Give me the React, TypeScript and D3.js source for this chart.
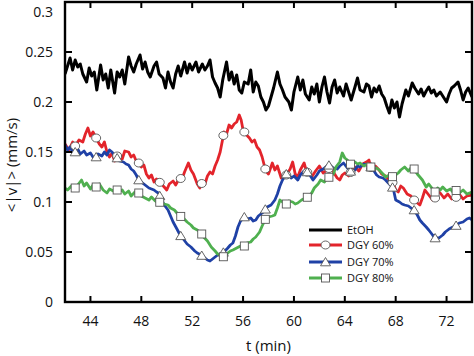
import React from "react";
import * as d3 from "d3";

// ---------- data ----------
const etoh: [number, number][] = [
  [42.0,0.228],[42.2,0.236],[42.4,0.244],[42.6,0.232],[42.8,0.242],[43.0,0.235],[43.2,0.238],[43.4,0.228],[43.7,0.220],[43.9,0.234],
  [44.1,0.226],[44.3,0.230],[44.5,0.212],[44.8,0.237],[45.0,0.222],[45.2,0.228],[45.4,0.214],[45.6,0.232],[45.9,0.209],[46.1,0.230],
  [46.3,0.225],[46.5,0.232],[46.7,0.218],[47.0,0.245],[47.2,0.236],[47.4,0.230],[47.6,0.238],[47.9,0.247],[48.1,0.233],[48.3,0.240],
  [48.5,0.230],[48.7,0.225],[49.0,0.236],[49.2,0.240],[49.4,0.228],[49.7,0.224],[49.9,0.214],[50.1,0.230],[50.3,0.220],[50.5,0.214],
  [50.7,0.228],[50.9,0.236],[51.1,0.226],[51.4,0.240],[51.6,0.229],[51.8,0.238],[52.0,0.232],[52.3,0.240],[52.5,0.230],[52.8,0.238],
  [53.0,0.232],[53.2,0.236],[53.4,0.242],[53.6,0.225],[53.8,0.219],[54.0,0.214],[54.2,0.205],[54.4,0.222],[54.7,0.240],[54.9,0.222],
  [55.1,0.230],[55.3,0.218],[55.5,0.227],[55.7,0.212],[55.9,0.209],[56.1,0.220],[56.4,0.218],[56.6,0.232],[56.8,0.210],[57.0,0.220],
  [57.2,0.216],[57.4,0.205],[57.6,0.200],[57.8,0.192],[58.0,0.196],[58.2,0.205],[58.4,0.214],[58.7,0.230],[58.9,0.218],[59.1,0.212],
  [59.3,0.205],[59.6,0.200],[59.8,0.192],[60.0,0.210],[60.3,0.225],[60.5,0.212],[60.7,0.222],[60.9,0.208],[61.2,0.202],[61.4,0.215],
  [61.6,0.208],[61.8,0.218],[62.0,0.200],[62.2,0.215],[62.4,0.225],[62.6,0.210],[62.8,0.199],[63.0,0.215],[63.2,0.222],[63.4,0.209],
  [63.6,0.215],[63.9,0.206],[64.1,0.218],[64.3,0.210],[64.5,0.202],[64.8,0.215],[65.0,0.224],[65.2,0.212],[65.5,0.210],[65.7,0.218],
  [65.9,0.216],[66.1,0.205],[66.3,0.214],[66.5,0.210],[66.7,0.216],[66.9,0.208],[67.1,0.204],[67.3,0.196],[67.5,0.189],[67.7,0.202],
  [67.9,0.194],[68.1,0.200],[68.3,0.185],[68.5,0.198],[68.8,0.212],[69.0,0.206],[69.3,0.219],[69.5,0.214],[69.8,0.208],[70.0,0.213],
  [70.2,0.206],[70.4,0.211],[70.6,0.215],[70.8,0.209],[71.0,0.212],[71.2,0.206],[71.5,0.210],[71.8,0.204],[72.0,0.200],[72.2,0.208],
  [72.4,0.214],[72.6,0.216],[72.9,0.220],[73.1,0.212],[73.3,0.202],[73.5,0.210],[73.7,0.214],[74.0,0.205],
];

const dgy60: [number, number][] = [
  [42.0,0.158],[42.3,0.152],[42.6,0.160],[42.8,0.156],[43.1,0.162],[43.4,0.160],[43.6,0.168],[43.8,0.174],[44.0,0.166],[44.2,0.170],
  [44.45,0.164],[44.7,0.158],[44.9,0.155],[45.1,0.160],[45.3,0.150],[45.5,0.145],[45.7,0.149],[45.9,0.141],[46.1,0.146],[46.3,0.148],
  [46.5,0.143],[46.7,0.151],[47.0,0.150],[47.2,0.145],[47.4,0.147],[47.6,0.141],[47.8,0.139],[48.0,0.135],[48.2,0.137],[48.4,0.128],
  [48.6,0.124],[48.8,0.127],[49.0,0.120],[49.2,0.123],[49.5,0.119],[49.8,0.115],[50.0,0.112],[50.2,0.118],[50.5,0.121],[50.7,0.117],
  [51.0,0.124],[51.2,0.123],[51.4,0.130],[51.7,0.139],[51.9,0.132],[52.1,0.128],[52.4,0.118],[52.6,0.114],[52.8,0.120],[53.0,0.118],
  [53.2,0.126],[53.4,0.130],[53.6,0.128],[53.8,0.136],[54.0,0.142],[54.2,0.150],[54.4,0.163],[54.5,0.170],[54.7,0.168],[54.9,0.177],
  [55.1,0.174],[55.3,0.178],[55.5,0.180],[55.7,0.187],[55.85,0.182],[56.0,0.172],[56.2,0.168],[56.5,0.164],[56.7,0.160],[56.9,0.162],
  [57.1,0.155],[57.3,0.152],[57.5,0.145],[57.7,0.135],[57.8,0.131],[58.0,0.128],[58.3,0.139],[58.5,0.132],[58.7,0.136],[59.0,0.124],
  [59.2,0.128],[59.4,0.127],[59.7,0.133],[59.9,0.140],[60.1,0.128],[60.3,0.125],[60.5,0.132],[60.8,0.139],[61.0,0.130],[61.2,0.129],
  [61.4,0.125],[61.7,0.131],[62.0,0.136],[62.3,0.129],[62.6,0.132],[62.9,0.135],[63.2,0.128],[63.4,0.124],[63.6,0.122],[63.8,0.127],
  [64.0,0.129],[64.3,0.126],[64.6,0.133],[64.8,0.135],[65.1,0.131],[65.4,0.138],[65.7,0.140],[65.9,0.142],[66.1,0.132],[66.4,0.136],
  [66.7,0.132],[66.9,0.128],[67.2,0.126],[67.5,0.122],[67.8,0.119],[68.0,0.112],[68.2,0.110],[68.4,0.116],[68.6,0.114],[68.9,0.108],
  [69.2,0.106],[69.45,0.102],[69.7,0.099],[69.9,0.097],[70.1,0.104],[70.3,0.112],[70.6,0.107],[70.9,0.102],[71.1,0.104],[71.3,0.111],
  [71.5,0.109],[71.8,0.104],[72.1,0.108],[72.4,0.103],[72.7,0.104],[73.0,0.108],[73.3,0.103],[73.6,0.106],[74.0,0.107],
];

const dgy70: [number, number][] = [
  [42.0,0.157],[42.2,0.152],[42.4,0.155],[42.6,0.150],[42.8,0.150],[43.0,0.153],[43.2,0.148],[43.5,0.151],[43.7,0.147],[44.0,0.149],
  [44.2,0.145],[44.4,0.144],[44.6,0.148],[44.9,0.146],[45.1,0.150],[45.3,0.147],[45.5,0.152],[45.7,0.150],[45.9,0.146],[46.1,0.144],
  [46.3,0.141],[46.6,0.140],[46.8,0.138],[47.0,0.137],[47.2,0.133],[47.4,0.131],[47.6,0.127],[47.8,0.122],[48.0,0.120],[48.2,0.118],
  [48.4,0.116],[48.6,0.114],[48.8,0.113],[49.0,0.112],[49.2,0.110],[49.35,0.109],[49.6,0.102],[49.8,0.097],[50.1,0.092],[50.3,0.086],
  [50.5,0.080],[50.8,0.073],[51.05,0.067],[51.3,0.063],[51.6,0.058],[51.9,0.055],[52.2,0.051],[52.4,0.049],[52.7,0.047],[53.0,0.044],
  [53.2,0.042],[53.4,0.041],[53.7,0.044],[54.0,0.047],[54.2,0.048],[54.5,0.050],[54.8,0.054],[55.0,0.057],[55.2,0.059],[55.4,0.066],
  [55.6,0.075],[55.8,0.081],[56.1,0.085],[56.3,0.083],[56.6,0.084],[56.8,0.081],[57.0,0.082],[57.2,0.086],[57.5,0.089],[57.7,0.092],
  [57.9,0.095],[58.2,0.097],[58.5,0.102],[58.7,0.108],[58.9,0.116],[59.1,0.122],[59.4,0.128],[59.6,0.127],[59.8,0.124],[60.0,0.126],
  [60.3,0.122],[60.5,0.127],[60.8,0.131],[61.06,0.130],[61.3,0.126],[61.5,0.122],[61.8,0.127],[62.0,0.131],[62.3,0.133],[62.6,0.136],
  [62.8,0.137],[63.1,0.134],[63.4,0.133],[63.6,0.136],[63.9,0.139],[64.2,0.134],[64.5,0.130],[64.8,0.132],[65.0,0.136],[65.2,0.135],
  [65.5,0.138],[65.8,0.137],[66.05,0.135],[66.3,0.131],[66.5,0.127],[66.7,0.125],[67.0,0.124],[67.2,0.122],[67.5,0.118],[67.8,0.114],
  [67.9,0.108],[68.0,0.102],[68.3,0.100],[68.5,0.098],[68.7,0.097],[69.0,0.096],[69.2,0.094],[69.45,0.092],[69.7,0.087],[69.9,0.082],
  [70.1,0.079],[70.4,0.075],[70.6,0.072],[70.9,0.067],[71.1,0.064],[71.4,0.064],[71.7,0.067],[71.9,0.070],[72.2,0.073],[72.5,0.075],
  [72.7,0.076],[73.0,0.079],[73.3,0.080],[73.6,0.083],[73.8,0.084],[74.0,0.082],
];

const dgy80: [number, number][] = [
  [42.0,0.114],[42.2,0.112],[42.5,0.116],[42.8,0.114],[43.0,0.117],[43.3,0.122],[43.5,0.116],[43.7,0.119],[44.0,0.113],[44.2,0.117],
  [44.45,0.115],[44.7,0.118],[45.0,0.112],[45.3,0.109],[45.5,0.113],[45.8,0.111],[46.0,0.114],[46.2,0.110],[46.5,0.112],[46.7,0.108],
  [47.0,0.111],[47.2,0.106],[47.5,0.110],[47.8,0.109],[48.0,0.106],[48.3,0.104],[48.6,0.102],[48.8,0.105],[49.1,0.101],[49.3,0.099],
  [49.5,0.100],[49.8,0.098],[50.1,0.097],[50.3,0.094],[50.6,0.092],[50.8,0.089],[51.05,0.086],[51.3,0.084],[51.6,0.080],[51.9,0.077],
  [52.1,0.074],[52.4,0.072],[52.7,0.069],[52.9,0.065],[53.2,0.061],[53.5,0.055],[53.8,0.051],[54.0,0.048],[54.3,0.046],[54.5,0.045],
  [54.8,0.049],[55.0,0.051],[55.2,0.052],[55.5,0.054],[55.8,0.056],[56.1,0.056],[56.3,0.059],[56.6,0.060],[56.8,0.063],[57.0,0.065],
  [57.3,0.070],[57.5,0.076],[57.8,0.084],[58.0,0.085],[58.3,0.086],[58.5,0.087],[58.7,0.094],[58.9,0.102],[59.1,0.100],[59.4,0.098],
  [59.6,0.101],[59.9,0.100],[60.1,0.098],[60.3,0.099],[60.6,0.102],[60.9,0.104],[61.1,0.105],[61.4,0.109],[61.6,0.114],[61.9,0.118],
  [62.1,0.122],[62.4,0.120],[62.6,0.124],[62.8,0.125],[63.1,0.128],[63.3,0.135],[63.6,0.140],[63.8,0.149],[64.0,0.144],[64.2,0.142],
  [64.5,0.137],[64.8,0.140],[65.0,0.138],[65.2,0.139],[65.5,0.136],[65.8,0.138],[66.05,0.135],[66.3,0.133],[66.5,0.134],[66.7,0.132],
  [67.0,0.128],[67.2,0.125],[67.5,0.127],[67.8,0.125],[68.0,0.127],[68.2,0.129],[68.4,0.132],[68.7,0.135],[69.0,0.131],[69.2,0.134],
  [69.45,0.133],[69.7,0.128],[69.9,0.125],[70.1,0.122],[70.4,0.115],[70.6,0.118],[70.9,0.113],[71.1,0.110],[71.3,0.114],[71.5,0.112],
  [71.7,0.115],[72.0,0.111],[72.3,0.113],[72.5,0.110],[72.7,0.112],[73.0,0.109],[73.3,0.112],[73.6,0.108],[74.0,0.110],
];

const markerTimes = [42.8, 44.45, 46.1, 47.8, 49.45, 51.1, 52.75, 54.45, 56.1, 57.75, 59.4, 61.05, 62.75, 64.45, 66.05, 67.75, 69.45, 71.1, 72.75];
const xTicks = [44, 48, 52, 56, 60, 64, 68, 72];
const yTicks = [0, 0.05, 0.1, 0.15, 0.2, 0.25, 0.3];
const yTickLabels = ["0", "0.05", "0.1", "0.15", "0.2", "0.25", "0.3"];
const seriesNames = ["EtOH", "DGY 60%", "DGY 70%", "DGY 80%"];

// ---------- layout ----------
const W = 474, H = 356;
const L = 65, R = 472, T = 2, B = 302;
const FONT = "'Open Sans', sans-serif";

const x = d3.scaleLinear().domain([42, 74]).range([L, R]);
const y = d3.scaleLinear().domain([0, 0.3]).range([B, T]);
const line = d3.line<[number, number]>().x(d => x(d[0])).y(d => y(d[1]));

const interp = (data: [number, number][], t: number) => {
  const i = d3.bisector((d: [number, number]) => d[0]).left(data, t);
  if (i <= 0) return data[0][1];
  if (i >= data.length) return data[data.length - 1][1];
  const a = data[i - 1], b = data[i];
  return a[1] + (b[1] - a[1]) * (t - a[0]) / (b[0] - a[0]);
};

type Shape = "none" | "circle" | "triangle" | "square";
const series: { data: [number, number][]; color: string; shape: Shape; w: number }[] = [
  { data: etoh, color: "#000000", shape: "none", w: 3 },
  { data: dgy60, color: "#e3242b", shape: "circle", w: 2.8 },
  { data: dgy70, color: "#1f41a6", shape: "triangle", w: 2.8 },
  { data: dgy80, color: "#4fb04f", shape: "square", w: 2.8 },
];

function Marker({ shape, cx, cy }: { shape: Shape; cx: number; cy: number }) {
  const st = { fill: "#fff", stroke: "#555", strokeWidth: 0.9 };
  if (shape === "circle") return <ellipse cx={cx} cy={cy} rx={4.5} ry={4} {...st} />;
  if (shape === "square") return <rect x={cx - 4} y={cy - 4} width={8} height={8} {...st} />;
  if (shape === "triangle")
    return <path d={`M${cx},${cy - 4.5}L${cx + 5},${cy + 3.8}L${cx - 5},${cy + 3.8}Z`} {...st} />;
  return null;
}

export default function App() {
  const legendY = [230, 245, 262, 278];
  return (
    <svg width={W} height={H} style={{ position: "absolute", left: 0, top: 0, background: "#fff" }}>
      <defs>
        <clipPath id="plot">
          <rect x={L} y={T} width={R - L} height={B - T} />
        </clipPath>
      </defs>
      <g clipPath="url(#plot)">
        {series.map((s, i) => (
          <path key={i} d={line(s.data) || ""} fill="none" stroke={s.color} strokeWidth={s.w} strokeLinejoin="round" />
        ))}
        {series.map((s, i) =>
          s.shape === "none"
            ? null
            : markerTimes.map((t, j) => <Marker key={`${i}-${j}`} shape={s.shape} cx={x(t)} cy={y(interp(s.data, t))} />)
        )}
      </g>
      {/* frame */}
      <rect x={L} y={T} width={R - L} height={B - T} fill="none" stroke="#000" strokeWidth={2.4} />
      {/* x ticks */}
      {xTicks.map(t => (
        <g key={t}>
          <line x1={x(t)} x2={x(t)} y1={B} y2={B - 6} stroke="#000" strokeWidth={2} />
          <line x1={x(t)} x2={x(t)} y1={T} y2={T + 6} stroke="#000" strokeWidth={2} />
          <text x={x(t)} y={B + 24} textAnchor="middle" fontFamily={FONT} fontSize={14} fill="#111">{t}</text>
        </g>
      ))}
      {/* y ticks */}
      {yTicks.map((v, i) => (
        <g key={v}>
          <line x1={L} x2={L + 7} y1={y(v)} y2={y(v)} stroke="#000" strokeWidth={2} />
          <line x1={R} x2={R - 7} y1={y(v)} y2={y(v)} stroke="#000" strokeWidth={2} />
          <text x={L - 12} y={Math.max(y(v) + 5, 17)} textAnchor="end" fontFamily={FONT} fontSize={14} fill="#111">{yTickLabels[i]}</text>
        </g>
      ))}
      <text x={(L + R) / 2} y={351} textAnchor="middle" fontFamily={FONT} fontSize={15} fill="#111">t (min)</text>
      <text transform={`translate(17,${165}) rotate(-90)`} textAnchor="middle" fontFamily={FONT} fontSize={15} fill="#111">
        {"<|v|>  (mm/s)"}
      </text>
      {/* legend */}
      {series.map((s, i) => (
        <g key={i}>
          <line x1={309} x2={342} y1={legendY[i]} y2={legendY[i]} stroke={s.color} strokeWidth={2.8} />
          <Marker shape={s.shape} cx={325.5} cy={legendY[i]} />
          <text x={347} y={legendY[i] + 4} fontFamily={FONT} fontSize={11} fill="#111">{seriesNames[i]}</text>
        </g>
      ))}
    </svg>
  );
}
